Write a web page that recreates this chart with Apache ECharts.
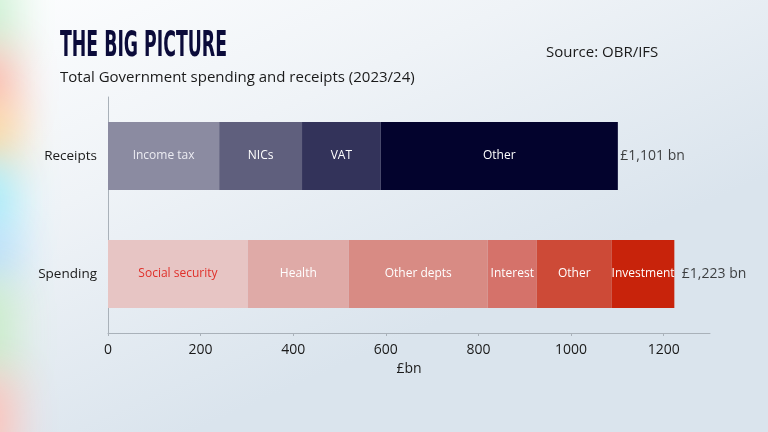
<!DOCTYPE html>
<html><head><meta charset="utf-8">
<script src="https://cdn.jsdelivr.net/npm/echarts@6/dist/echarts.min.js"></script>
<style>html,body{margin:0;padding:0;}#c{width:768px;height:432px;}</style>
</head><body><div id="c"></div>
<script>
const categories = ['Receipts', 'Spending'];
const receiptLabels = ['Income tax', 'NICs', 'VAT', 'Other'];
const receiptValues = [240, 179, 170, 512];
const spendingLabels = ['Social security', 'Health', 'Other depts', 'Interest', 'Other', 'Investment'];
const spendingValues = [302, 218, 300, 106, 162, 135];
const totalLabels = ['£1,101 bn', '£1,223 bn'];
const xTicks = [0, 200, 400, 600, 800, 1000, 1200];

const receiptColors = ['#8b8ba1', '#5f5f7d', '#33335a', '#03032d'];
const spendingColors = ['#e7c5c4', '#dfaaa7', '#d88b84', '#d5726a', '#cd4a37', '#c8230b'];
const receiptTextColors = ['#ececf2', '#ffffff', '#ffffff', '#ffffff'];
const spendingTextColors = ['#e0302a', '#ffffff', '#ffffff', '#ffffff', '#ffffff', '#ffffff'];

const FONT = '"Open Sans", "Noto Sans", sans-serif';
const sum = a => a.reduce((s, v) => s + v, 0);

function item(v, name, color, textColor) {
  if (v === undefined) return '-';
  return {
    value: v, name: name,
    itemStyle: { color: color },
    label: { show: true, position: 'inside', formatter: name, color: textColor, fontSize: 12, fontFamily: FONT }
  };
}

const nSeg = Math.max(receiptValues.length, spendingValues.length);
const series = [];
for (let i = 0; i < nSeg; i++) {
  series.push({
    type: 'bar', stack: 'total', barWidth: 68, silent: true,
    data: [
      item(receiptValues[i], receiptLabels[i], receiptColors[i], receiptTextColors[i]),
      item(spendingValues[i], spendingLabels[i], spendingColors[i], spendingTextColors[i])
    ]
  });
}
series.push({
  type: 'scatter', symbolSize: 1, silent: true,
  itemStyle: { color: 'rgba(0,0,0,0)' },
  data: [
    { value: [sum(receiptValues), categories[0]], label: { distance: 2 } },
    { value: [sum(spendingValues), categories[1]], label: { distance: 7 } }
  ],
  label: {
    show: true, position: 'right', color: '#111', fontSize: 14, fontFamily: FONT,
    formatter: p => totalLabels[p.dataIndex]
  }
});

// soft colour glow down the left edge
const glow = [
  [-30, 90, '#cdf0d2'],
  [50, 70, '#fbb8ac'],
  [105, 65, '#fcd89e'],
  [160, 80, '#a8ecf9'],
  [230, 55, '#b6dcfa'],
  [280, 100, '#c9ecc9'],
  [375, 90, '#fbc3ba']
];
const graphics = glow.map(g => ({
  type: 'rect', z: -10, silent: true,
  shape: { x: -384, y: g[0], width: 100, height: g[1] },
  style: { fill: g[2], shadowColor: g[2], shadowBlur: 40, shadowOffsetX: 300 }
}));
graphics.push({
  type: 'text', x: 60, y: 47, scaleX: 0.535, silent: true,
  style: {
    text: 'THE BIG PICTURE', fill: '#0b0b3a',
    font: 'bold 36px "DejaVu Sans Condensed", "DejaVu Sans", sans-serif',
    textVerticalAlign: 'middle'
  }
});

const option = {
  animation: false,
  backgroundColor: {
    type: 'linear', x: 0, y: 0, x2: 0.25, y2: 1,
    colorStops: [{ offset: 0, color: '#fcfdfe' }, { offset: 0.45, color: '#eff3f7' }, { offset: 1, color: '#dae4ed' }]
  },
  graphic: graphics,
  title: [
    { text: 'Total Government spending and receipts (2023/24)', left: 55, top: 65,
      textStyle: { fontFamily: FONT, fontSize: 15, fontWeight: 'normal', color: '#1a1a1a' } },
    { text: 'Source: OBR/IFS', left: 541, top: 40,
      textStyle: { fontFamily: FONT, fontSize: 15, fontWeight: 'normal', color: '#1a1a1a' } }
  ],
  grid: { left: 108, right: 58, top: 97, bottom: 99, containLabel: false },
  xAxis: {
    type: 'value', min: 0, max: 1300, interval: 200,
    name: '£bn', nameLocation: 'middle', nameGap: 26,
    nameTextStyle: { fontFamily: FONT, fontSize: 14, color: '#1a1a1a' },
    axisLine: { show: true, lineStyle: { color: '#a9b1b9', width: 1 } },
    axisTick: { show: true, length: 3, customValues: xTicks, lineStyle: { color: '#a9b1b9' } },
    axisLabel: { customValues: xTicks, fontFamily: FONT, fontSize: 14, color: '#1a1a1a', margin: 10,
      formatter: v => String(v) },
    splitLine: { show: false }
  },
  yAxis: {
    type: 'category', inverse: true, data: categories,
    axisLine: { show: true, lineStyle: { color: '#a9b1b9', width: 1 } },
    axisTick: { show: false },
    axisLabel: { fontFamily: FONT, fontSize: 13.5, color: '#1a1a1a', margin: 11 }
  },
  series: series
};
const chart = echarts.init(document.getElementById('c'), null, { renderer: 'canvas' });
chart.setOption(option);
</script></body></html>
